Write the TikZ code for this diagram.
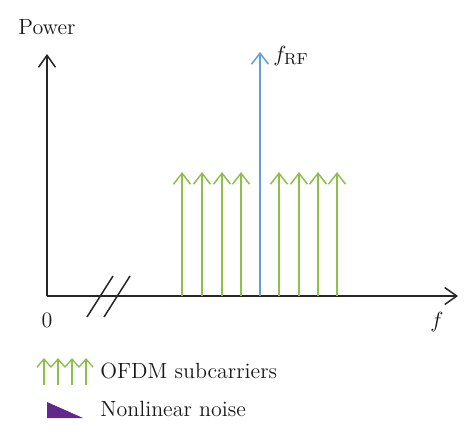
\documentclass[tikz,border=0pt]{standalone}
\usepackage{amsmath}
\usepackage{xcolor}
\usepackage{tikz}
\usetikzlibrary{arrows.meta,positioning,calc}

\definecolor{subgreen}{RGB}{140,192,74}
\definecolor{rfblue}{RGB}{96,158,214}
\definecolor{noisepurple}{RGB}{98,40,140}

\begin{document}
\begin{tikzpicture}[x=0.5pt, y=-0.5pt,
      font=\fontsize{11}{13}\selectfont,
      axis/.style={line width=0.75pt, draw=black!85},
      tone/.style={line width=0.75pt, -{Straight Barb[length=5.5pt, width=8.5pt, line width=0.75pt]}},
      minitone/.style={line width=0.7pt, draw=subgreen,
                       -{Straight Barb[length=4pt, width=7pt, line width=0.7pt]}},
      lbl/.style={inner sep=0pt, text=black!90},
      >={Straight Barb[length=6pt, width=8.5pt, line width=0.75pt]}]

    \useasboundingbox (0,0) rectangle (474,436);

    % axes
    \coordinate (orig) at (47,296);
    \coordinate (ytip) at (47,54);
    \coordinate (xtip) at (458,296);
    \draw[axis, ->] (orig) -- (ytip);
    \draw[axis, ->] (orig) -- (xtip);
    \node[lbl] (power) at (47,27) {Power};
    \node[lbl] (zero) at (47,320) {0};
    \node[lbl] (freq) at (437,322) {$f$};

    % axis break
    \draw[axis] (87,317) -- (113,276);
    \draw[axis] (104,317) -- (130,276);

    % subcarriers and RF tone
    \foreach \xs in {182,202,222,241,279,299,318,337}
      \draw[tone, draw=subgreen] (\xs,296) -- (\xs,172);
    \coordinate (rfbase) at (260,296);
    \coordinate (rftop) at (260,52);
    \draw[tone, draw=rfblue] (rfbase) -- (rftop);
    \node[lbl, anchor=west] (rflbl) at (273,56) {$f_{\mathrm{RF}}$};

    % legend
    \foreach \xs in {44,58,72,86}
      \draw[minitone] (\xs,385) -- (\xs,358);
    \node[lbl, anchor=west] (leg1) at (100,371) {OFDM subcarriers};
    \fill[noisepurple] (47,402) -- (47,418) -- (83,418) -- cycle;
    \node[lbl, anchor=west] (leg2) at (100,409) {Nonlinear noise};
  \end{tikzpicture}
\end{document}
